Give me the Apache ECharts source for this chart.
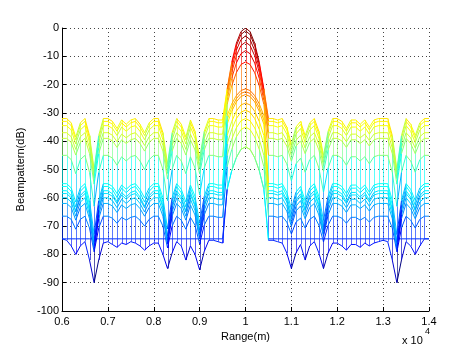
<!DOCTYPE html>
<html>
<head>
<meta charset="utf-8">
<script src="https://cdn.jsdelivr.net/npm/echarts@6/dist/echarts.min.js"></script>
<style>
  html, body { margin: 0; padding: 0; background: #ffffff; }
  #chart { width: 474px; height: 350px; }
</style>
</head>
<body>
<div id="chart"></div>
<script>
// Range samples (x 10^4 m), one mesh column per sample
const rangeGrid = [
  0.60,0.61,0.62,0.63,0.64,0.65,0.66,0.67,0.68,0.69,
  0.70,0.71,0.72,0.73,0.74,0.75,0.76,0.77,0.78,0.79,
  0.80,0.81,0.82,0.83,0.84,0.85,0.86,0.87,0.88,0.89,
  0.90,0.91,0.92,0.93,0.94,0.95,0.96,0.97,0.98,0.99,
  1.00,1.01,1.02,1.03,1.04,1.05,1.06,1.07,1.08,1.09,
  1.10,1.11,1.12,1.13,1.14,1.15,1.16,1.17,1.18,1.19,
  1.20,1.21,1.22,1.23,1.24,1.25,1.26,1.27,1.28,1.29,
  1.30,1.31,1.32,1.33,1.34,1.35,1.36,1.37,1.38,1.39,1.40
];

// Beampattern rows (dB), lowest row first: left sidelobes | main lobe | right sidelobes
const row00 = [-74.5,-75,-77,-80,-77,-75.5,-82,-90,-82,-76, -75.5,-76.5,-77.5,-76,-76.5,-75.5,-76,-77,-78.5,-77, -76,-76,-80,-85,-79.5,-75.5,-77,-82,-77,-80, -85.5,-79,-75,-75,-75.5,-76,
  -57,-50.4,-45.8,-42.9,-42,-42.9,-45.8,-50.4,-57,
  -75,-75,-75.5,-76,-79.5,-85,-79.5,-76.5,-82,-77, -75.5,-79.5,-85,-79.5,-76,-76,-77,-78.5,-76.5,-76.5, -77.5,-76,-77,-76,-75.5,-75,-75.5,-82,-90,-82, -75.5,-77,-80,-77,-74.5,-74.5];
const row01 = [-74.5,-74.5,-74.5,-74.5,-74.5,-74.5,-74.5,-74.5,-74.5,-74.5, -74.5,-74.5,-74.5,-74.5,-74.5,-74.5,-74.5,-74.5,-74.5,-74.5, -74.5,-74.5,-74.5,-74.5,-74.5,-74.5,-74.5,-74.5,-74.5,-74.5, -74.5,-74.5,-74.5,-74.5,-74.5,-74.5,
  -57,-50.4,-45.8,-42.9,-42,-42.9,-45.8,-50.4,-57,
  -74.5,-74.5,-74.5,-74.5,-74.5,-74.5,-74.5,-74.5,-74.5,-74.5, -74.5,-74.5,-74.5,-74.5,-74.5,-74.5,-74.5,-74.5,-74.5,-74.5, -74.5,-74.5,-74.5,-74.5,-74.5,-74.5,-74.5,-74.5,-74.5,-74.5, -74.5,-74.5,-74.5,-74.5,-74.5,-74.5];
const row02 = [-66.5,-66.5,-67.6,-71.1,-67.6,-66.5,-70.7,-79.1,-70.7,-66.5, -66.5,-67.2,-69,-66.9,-67.9,-66.9,-66.5,-67.9,-70,-67.6, -66.5,-66.5,-70,-77.7,-70,-66.5,-67.9,-71.1,-66.9,-69.7, -76.3,-69.7,-66.5,-66.5,-66.9,-66.9,
  -49,-42.9,-38.5,-35.9,-35,-35.9,-38.5,-42.9,-49,
  -66.5,-66.5,-66.9,-66.5,-68.6,-72.8,-68.6,-67.2,-70.7,-67.6, -66.5,-69.7,-75.6,-69.7,-66.5,-66.5,-67.2,-69,-66.9,-66.9, -67.9,-66.9,-68.6,-66.9,-66.5,-66.5,-66.5,-70.7,-79.1,-70.7, -66.5,-67.9,-70.7,-67.6,-66.5,-66.5];
const row03 = [-62,-62,-63.4,-67.9,-63.4,-62,-67.4,-78.2,-67.4,-62, -62,-62.9,-65.2,-62.5,-63.8,-62.5,-62,-63.8,-66.5,-63.4, -62,-62,-66.5,-76.4,-66.5,-62,-63.8,-67.9,-62.5,-66.1, -74.6,-66.1,-62,-62,-62.5,-62.5,
  -45,-39.3,-35.3,-32.8,-32,-32.8,-35.3,-39.3,-45,
  -62,-62,-62.5,-62,-64.7,-70.1,-64.7,-62.9,-67.4,-63.4, -62,-66.1,-73.7,-66.1,-62,-62,-62.9,-65.2,-62.5,-62.5, -63.8,-62.5,-64.7,-62.5,-62,-62,-62,-67.4,-78.2,-67.4, -62,-63.8,-67.4,-63.4,-62,-62];
const row04 = [-60,-60,-61.5,-66.5,-61.5,-60,-66,-78,-66,-60, -60,-61,-63.5,-60.5,-62,-60.5,-60,-62,-65,-61.5, -60,-60,-65,-76,-65,-60,-62,-66.5,-60.5,-64.5, -74,-64.5,-60,-60,-60.5,-60.5,
  -41,-35.8,-32,-29.8,-29,-29.8,-32,-35.8,-41,
  -60,-60,-60.5,-60,-63,-69,-63,-61,-66,-61.5, -60,-64.5,-73,-64.5,-60,-60,-61,-63.5,-60.5,-60.5, -62,-60.5,-63,-60.5,-60,-60,-60,-66,-78,-66, -60,-62,-66,-61.5,-60,-60];
const row05 = [-58.5,-58.5,-60,-65,-60,-58.5,-64.5,-76.5,-64.5,-58.5, -58.5,-59.5,-62,-59,-60.5,-59,-58.5,-60.5,-63.5,-60, -58.5,-58.5,-63.5,-74.5,-63.5,-58.5,-60.5,-65,-59,-63, -72.5,-63,-58.5,-58.5,-59,-59,
  -38,-33,-29.4,-27.2,-26.5,-27.2,-29.4,-33,-38,
  -58.5,-58.5,-59,-58.5,-61.5,-67.5,-61.5,-59.5,-64.5,-60, -58.5,-63,-71.5,-63,-58.5,-58.5,-59.5,-62,-59,-59, -60.5,-59,-61.5,-59,-58.5,-58.5,-58.5,-64.5,-76.5,-64.5, -58.5,-60.5,-64.5,-60,-58.5,-58.5];
const row06 = [-57.5,-57.5,-59.2,-64.7,-59.2,-57.5,-64.1,-77.3,-64.1,-57.5, -57.5,-58.6,-61.4,-58.1,-59.7,-58.1,-57.5,-59.7,-63,-59.2, -57.5,-57.5,-63,-75.1,-63,-57.5,-59.7,-64.7,-58.1,-62.5, -72.9,-62.5,-57.5,-57.5,-58.1,-58.1,
  -34,-29.4,-26.1,-24.2,-23.5,-24.2,-26.1,-29.4,-34,
  -57.5,-57.5,-58.1,-57.5,-60.8,-67.4,-60.8,-58.6,-64.1,-59.2, -57.5,-62.5,-71.8,-62.5,-57.5,-57.5,-58.6,-61.4,-58.1,-58.1, -59.7,-58.1,-60.8,-58.1,-57.5,-57.5,-57.5,-64.1,-77.3,-64.1, -57.5,-59.7,-64.1,-59.2,-57.5,-57.5];
const row07 = [-56,-56,-57.7,-63.2,-57.7,-56,-62.6,-75.8,-62.6,-56, -56,-57.1,-59.9,-56.6,-58.2,-56.6,-56,-58.2,-61.5,-57.7, -56,-56,-61.5,-73.6,-61.5,-56,-58.2,-63.2,-56.6,-61, -71.4,-61,-56,-56,-56.6,-56.6,
  -32.5,-28.1,-25,-23.1,-22.5,-23.1,-25,-28.1,-32.5,
  -56,-56,-56.6,-56,-59.3,-65.9,-59.3,-57.1,-62.6,-57.7, -56,-61,-70.3,-61,-56,-56,-57.1,-59.9,-56.6,-56.6, -58.2,-56.6,-59.3,-56.6,-56,-56,-56,-62.6,-75.8,-62.6, -56,-58.2,-62.6,-57.7,-56,-56];
const row08 = [-55,-55,-56.5,-61.5,-56.5,-55,-61,-73,-61,-55, -55,-56,-58.5,-55.5,-57,-55.5,-55,-57,-60,-56.5, -55,-55,-60,-71,-60,-55,-57,-61.5,-55.5,-59.5, -69,-59.5,-55,-55,-55.5,-55.5,
  -31,-26.8,-23.9,-22.1,-21.5,-22.1,-23.9,-26.8,-31,
  -55,-55,-55.5,-55,-58,-64,-58,-56,-61,-56.5, -55,-59.5,-68,-59.5,-55,-55,-56,-58.5,-55.5,-55.5, -57,-55.5,-58,-55.5,-55,-55,-55,-61,-73,-61, -55,-57,-61,-56.5,-55,-55];
const row09 = [-45,-45,-46.5,-51.5,-46.5,-45,-51,-63,-51,-45, -45,-46,-48.5,-45.5,-47,-45.5,-45,-47,-50,-46.5, -45,-45,-50,-61,-50,-45,-47,-51.5,-45.5,-49.5, -59,-49.5,-45,-45,-45.5,-45.5,
  -27,-20.4,-15.8,-12.9,-12,-12.9,-15.8,-20.4,-27,
  -45,-45,-45.5,-45,-48,-54,-48,-46,-51,-46.5, -45,-49.5,-58,-49.5,-45,-45,-46,-48.5,-45.5,-45.5, -47,-45.5,-48,-45.5,-45,-45,-45,-51,-63,-51, -45,-47,-51,-46.5,-45,-45];
const row10 = [-39,-39,-40.4,-44.9,-40.4,-39,-44.4,-55.2,-44.4,-39, -39,-39.9,-42.2,-39.5,-40.8,-39.5,-39,-40.8,-43.5,-40.4, -39,-39,-43.5,-53.4,-43.5,-39,-40.8,-44.9,-39.5,-43.1, -51.6,-43.1,-39,-39,-39.5,-39.5,
  -25.5,-17.8,-12.4,-9.1,-8,-9.1,-12.4,-17.8,-25.5,
  -39,-39,-39.5,-39,-41.7,-47.1,-41.7,-39.9,-44.4,-40.4, -39,-43.1,-50.7,-43.1,-39,-39,-39.9,-42.2,-39.5,-39.5, -40.8,-39.5,-41.7,-39.5,-39,-39,-39,-44.4,-55.2,-44.4, -39,-40.8,-44.4,-40.4,-39,-39];
const row11 = [-37,-37,-38.4,-42.9,-38.4,-37,-42.4,-53.2,-42.4,-37, -37,-37.9,-40.2,-37.5,-38.8,-37.5,-37,-38.8,-41.5,-38.4, -37,-37,-41.5,-51.4,-41.5,-37,-38.8,-42.9,-37.5,-41.1, -49.6,-41.1,-37,-37,-37.5,-37.5,
  -24,-15.7,-9.8,-6.2,-5,-6.2,-9.8,-15.7,-24,
  -37,-37,-37.5,-37,-39.7,-45.1,-39.7,-37.9,-42.4,-38.4, -37,-41.1,-48.7,-41.1,-37,-37,-37.9,-40.2,-37.5,-37.5, -38.8,-37.5,-39.7,-37.5,-37,-37,-37,-42.4,-53.2,-42.4, -37,-38.8,-42.4,-38.4,-37,-37];
const row12 = [-34.5,-34.5,-36,-41,-36,-34.5,-40.5,-52.5,-40.5,-34.5, -34.5,-35.5,-38,-35,-36.5,-35,-34.5,-36.5,-39.5,-36, -34.5,-34.5,-39.5,-50.5,-39.5,-34.5,-36.5,-41,-35,-39, -48.5,-39,-34.5,-34.5,-35,-35,
  -23,-14.2,-7.9,-4.1,-2.8,-4.1,-7.9,-14.2,-23,
  -34.5,-34.5,-35,-34.5,-37.5,-43.5,-37.5,-35.5,-40.5,-36, -34.5,-39,-47.5,-39,-34.5,-34.5,-35.5,-38,-35,-35, -36.5,-35,-37.5,-35,-34.5,-34.5,-34.5,-40.5,-52.5,-40.5, -34.5,-36.5,-40.5,-36,-34.5,-34.5];
const row13 = [-33,-33,-34.5,-39.5,-34.5,-33,-39,-51,-39,-33, -33,-34,-36.5,-33.5,-35,-33.5,-33,-35,-38,-34.5, -33,-33,-38,-49,-38,-33,-35,-39.5,-33.5,-37.5, -47,-37.5,-33,-33,-33.5,-33.5,
  -22,-12.8,-6.3,-2.3,-1,-2.3,-6.3,-12.8,-22,
  -33,-33,-33.5,-33,-36,-42,-36,-34,-39,-34.5, -33,-37.5,-46,-37.5,-33,-33,-34,-36.5,-33.5,-33.5, -35,-33.5,-36,-33.5,-33,-33,-33,-39,-51,-39, -33,-35,-39,-34.5,-33,-33];
const row14 = [-32,-32,-33.5,-38.5,-33.5,-32,-38,-50,-38,-32, -32,-33,-35.5,-32.5,-34,-32.5,-32,-34,-37,-33.5, -32,-32,-37,-48,-37,-32,-34,-38.5,-32.5,-36.5, -46,-36.5,-32,-32,-32.5,-32.5,
  -21.5,-12.1,-5.4,-1.3,0,-1.3,-5.4,-12.1,-21.5,
  -32,-32,-32.5,-32,-35,-41,-35,-33,-38,-33.5, -32,-36.5,-45,-36.5,-32,-32,-33,-35.5,-32.5,-32.5, -34,-32.5,-35,-32.5,-32,-32,-32,-38,-50,-38, -32,-34,-38,-33.5,-32,-32];

const rows = [row00,row01,row02,row03,row04,row05,row06,row07,row08,row09,row10,row11,row12,row13,row14];

// Colour limits of the mesh (dB)
const cMin = -90, cMax = 0;

// jet colormap, 64 levels, flat shading
function jet(v) {
  const n = 64;
  let k = Math.floor((v - cMin) / (cMax - cMin) * n);
  k = Math.max(0, Math.min(n - 1, k));
  const t = k / (n - 1);
  const c = x => Math.round(255 * Math.max(0, Math.min(1, x)));
  return 'rgb(' + c(1.5 - Math.abs(4 * t - 3)) + ',' + c(1.5 - Math.abs(4 * t - 2)) + ',' + c(1.5 - Math.abs(4 * t - 1)) + ')';
}

// Mesh edges along range: each segment takes the colour of its first vertex
const rowEdges = [];
rows.forEach(r => {
  for (let i = 0; i < rangeGrid.length - 1; i++) {
    if (r[i] == null || r[i + 1] == null) continue;
    rowEdges.push([rangeGrid[i], r[i], rangeGrid[i + 1], r[i + 1], r[i]]);
  }
});
// Mesh edges across rows (vertical in this view)
const colEdges = [];
for (let k = 0; k < rows.length - 1; k++) {
  for (let i = 0; i < rangeGrid.length; i++) {
    const a = rows[k][i], b = rows[k + 1][i];
    if (a == null || b == null) continue;
    colEdges.push([rangeGrid[i], a, rangeGrid[i], b, Math.min(a, b)]);
  }
}

function edgeRenderer(snap) {
  return function (params, api) {
    const p1 = api.coord([api.value(0), api.value(1)]);
    const p2 = api.coord([api.value(2), api.value(3)]);
    let x1 = p1[0], x2 = p2[0];
    if (snap) { x1 = x2 = Math.round(x1) + 0.5; }
    return {
      type: 'line',
      shape: { x1: x1, y1: p1[1], x2: x2, y2: p2[1] },
      style: { stroke: jet(api.value(4)), lineWidth: 1, opacity: snap ? 0.65 : 1 },
      silent: true
    };
  };
}

const chart = echarts.init(document.getElementById('chart'), null, { renderer: 'canvas' });
const fontFamily = '"Liberation Sans", Arial, sans-serif';
chart.setOption({
  animation: false,
  backgroundColor: '#ffffff',
  grid: { left: 62, right: 45, top: 28, height: 283, containLabel: false },
  xAxis: {
    type: 'value', min: 0.6, max: 1.4, interval: 0.1,
    name: 'Range(m)', nameLocation: 'middle', nameGap: 20,
    nameTextStyle: { color: '#000', fontSize: 11, fontFamily: fontFamily },
    axisLine: { show: true, onZero: false, lineStyle: { color: '#000', width: 1 } },
    axisTick: { show: true, inside: true, length: 4, lineStyle: { color: '#000' } },
    axisLabel: { color: '#000', fontSize: 11, fontFamily: fontFamily, margin: 5,
      formatter: v => String(+v.toFixed(1)) },
    splitLine: { show: true, lineStyle: { color: '#444', type: [1, 3], width: 1 } }
  },
  yAxis: {
    type: 'value', min: -100, max: 0, interval: 10,
    name: 'Beampattern(dB)', nameLocation: 'middle', nameGap: 29,
    nameTextStyle: { color: '#000', fontSize: 11, fontFamily: fontFamily },
    axisLine: { show: true, onZero: false, lineStyle: { color: '#000', width: 1 } },
    axisTick: { show: true, inside: true, length: 4, lineStyle: { color: '#000' } },
    axisLabel: { color: '#000', fontSize: 11, fontFamily: fontFamily, margin: 3 },
    splitLine: { show: true, lineStyle: { color: '#444', type: [1, 3], width: 1 } }
  },
  graphic: [
    { type: 'text', left: 402, top: 335, style: { text: 'x 10', fontSize: 11, fontFamily: fontFamily, fill: '#000' } },
    { type: 'text', left: 425, top: 327, style: { text: '4', fontSize: 9, fontFamily: fontFamily, fill: '#000' } }
  ],
  series: [
    { type: 'custom', renderItem: edgeRenderer(true), data: colEdges,
      encode: { x: [0, 2], y: [1, 3] }, progressive: 0, clip: true, z: 2 },
    { type: 'custom', renderItem: edgeRenderer(false), data: rowEdges,
      encode: { x: [0, 2], y: [1, 3] }, progressive: 0, clip: true, z: 3 }
  ]
});
</script>
</body>
</html>
